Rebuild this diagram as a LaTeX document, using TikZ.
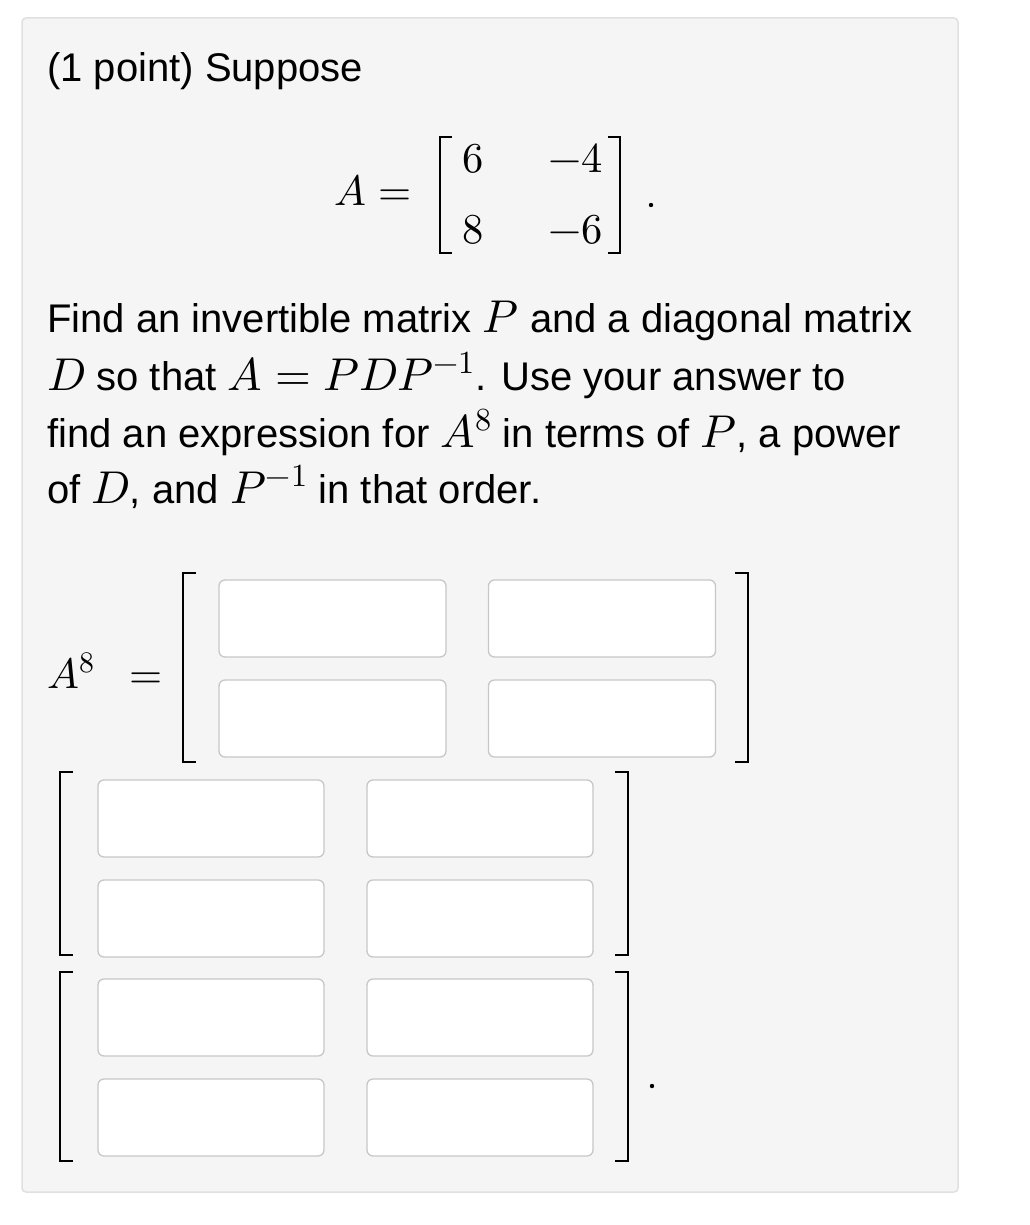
\documentclass[tikz,border=0pt]{standalone}
\usepackage{fontspec}
\setmainfont{Liberation Sans}
\usepackage{unicode-math}
\setmathfont{Latin Modern Math}[Scale=1.15]
\begin{document}
\begin{tikzpicture}[x=1pt,y=-1pt,
  ans/.style={draw=black!22,fill=white,rounded corners=6pt,line width=1.3pt},
  br/.style={line width=2pt},
  txt/.style={anchor=base west,inner sep=0pt,font=\fontsize{40}{44}\selectfont},
  mth/.style={inner sep=0pt,font=\fontsize{37}{42}\selectfont}]
\useasboundingbox (0,0) rectangle (1029,1225);
\fill[white] (0,0) rectangle (1029,1225);
\draw[fill=black!4,draw=black!12,line width=1.5pt,rounded corners=4pt] (22,18) rectangle (958,1192);
\node[txt] (t0) at (47,82) {(1 point) Suppose};
% matrix A
\node[mth,anchor=base east] (Aeq) at (412,205) {$A=$};
\draw[br] (452,137)--(440,137)--(440,253)--(452,253);
\draw[br] (608,137)--(620,137)--(620,253)--(608,253);
\node[mth,anchor=base] (a11) at (473,173) {$6$};
\node[mth,anchor=base] (a12) at (576,173) {$-4$};
\node[mth,anchor=base] (a21) at (473,243) {$8$};
\node[mth,anchor=base] (a22) at (576,243) {$-6$};
\fill (651,205) circle (2.2pt);
% paragraph
\node[txt] (l1) at (47,332) {Find an invertible matrix $P$ and a diagonal matrix};
\node[txt] (l2) at (47,390) {$D$ so that $A=PDP^{-1}$. Use your answer to};
\node[txt] (l3) at (47,447) {find an expression for $A^{8}$ in terms of $P$, a power};
\node[txt] (l4) at (47,503) {of $D$, and $P^{-1}$ in that order.};
% A^8 matrix
\node[mth,anchor=base west] (A8) at (47,688) {$A^{8}\;\;=$};
\draw[br] (196,573)--(183,573)--(183,762)--(196,762);
\draw[br] (735,573)--(748,573)--(748,762)--(735,762);
\node[ans,minimum width=227pt,minimum height=77pt] (b11) at (332.5,618.5) {};
\node[ans,minimum width=227pt,minimum height=77pt] (b12) at (602,618.5) {};
\node[ans,minimum width=227pt,minimum height=77pt] (b21) at (332.5,718.5) {};
\node[ans,minimum width=227pt,minimum height=77pt] (b22) at (602,718.5) {};
% second matrix
\draw[br] (73,772)--(60,772)--(60,955)--(73,955);
\draw[br] (615,772)--(628,772)--(628,955)--(615,955);
\node[ans,minimum width=226pt,minimum height=77pt] (c11) at (211,818.5) {};
\node[ans,minimum width=226pt,minimum height=77pt] (c12) at (480,818.5) {};
\node[ans,minimum width=226pt,minimum height=77pt] (c21) at (211,918.5) {};
\node[ans,minimum width=226pt,minimum height=77pt] (c22) at (480,918.5) {};
% third matrix
\draw[br] (73,972)--(60,972)--(60,1161)--(73,1161);
\draw[br] (615,972)--(628,972)--(628,1161)--(615,1161);
\node[ans,minimum width=226pt,minimum height=77pt] (d11) at (211,1017.5) {};
\node[ans,minimum width=226pt,minimum height=77pt] (d12) at (480,1017.5) {};
\node[ans,minimum width=226pt,minimum height=77pt] (d21) at (211,1117.5) {};
\node[ans,minimum width=226pt,minimum height=77pt] (d22) at (480,1117.5) {};
\fill (652,1086) circle (2.2pt);
\end{tikzpicture}
\end{document}
